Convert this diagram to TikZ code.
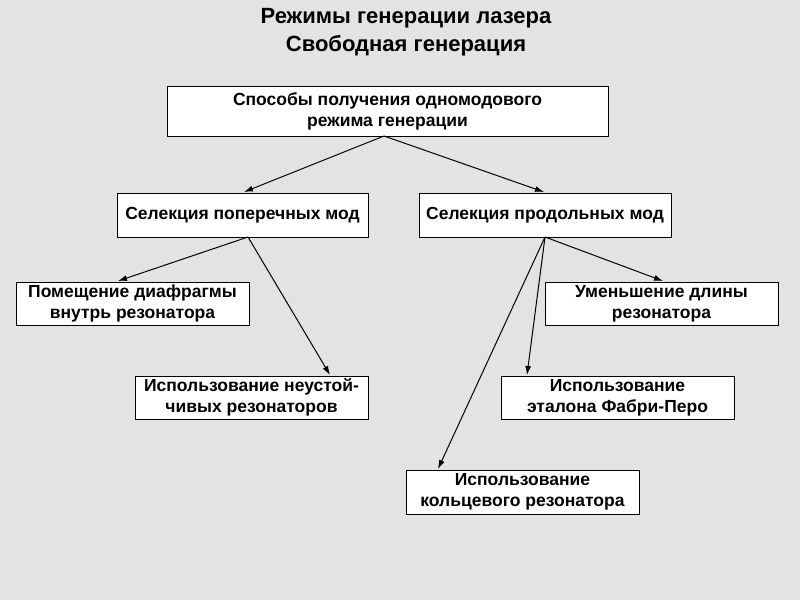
\documentclass[tikz,border=0pt]{standalone}
\usepackage{fontspec}
\usetikzlibrary{arrows.meta}
\setmainfont{Liberation Sans}
\begin{document}
\begin{tikzpicture}[x=1pt,y=-1pt,
  box/.style={draw=black,fill=white,line width=1pt,font=\bfseries\fontsize{17.5}{21}\selectfont,align=center,inner sep=0pt},
  arr/.style={-{Latex[length=9pt,width=6pt]},line width=1pt}]
\fill[gray!22!white] (0,0) rectangle (800,600);
\useasboundingbox (0,0) rectangle (800,600);
\node[font=\bfseries\fontsize{22}{26}\selectfont] (t1) at (406,18) {Режимы генерации лазера};
\node[font=\bfseries\fontsize{22}{26}\selectfont] (t2) at (406,46) {Свободная генерация};
\node[box,minimum width=441,minimum height=50] (top) at (387.5,111) {Способы получения одномодового\\режима генерации};
\node[box,minimum width=251,minimum height=44] (tr) at (242.5,215) {Селекция поперечных мод};
\node[box,minimum width=252,minimum height=44] (lo) at (545,215) {Селекция продольных мод};
\node[box,minimum width=233,minimum height=43] (pd) at (132.5,303.5) {Помещение диафрагмы\\внутрь резонатора};
\node[box,minimum width=233,minimum height=43] (ud) at (661.5,303.5) {Уменьшение длины\\резонатора};
\node[box,minimum width=233,minimum height=43] (un) at (251.5,397.5) {Использование неустой-\\чивых резонаторов};
\node[box,minimum width=233,minimum height=43] (fp) at (617.5,397.5) {Использование\\эталона Фабри-Перо};
\node[box,minimum width=233,minimum height=44] (ring) at (522.5,492) {Использование\\кольцевого резонатора};
\coordinate (a) at (384,136);
\coordinate (b) at (248,237);
\coordinate (c) at (545,237);
\draw[arr] (a) -- (244,192);
\draw[arr] (a) -- (544,192);
\draw[arr] (b) -- (118,281);
\draw[arr] (b) -- (330,375);
\draw[arr] (c) -- (663,281);
\draw[arr] (c) -- (527,375);
\draw[arr] (c) -- (438,469);
\end{tikzpicture}
\end{document}
